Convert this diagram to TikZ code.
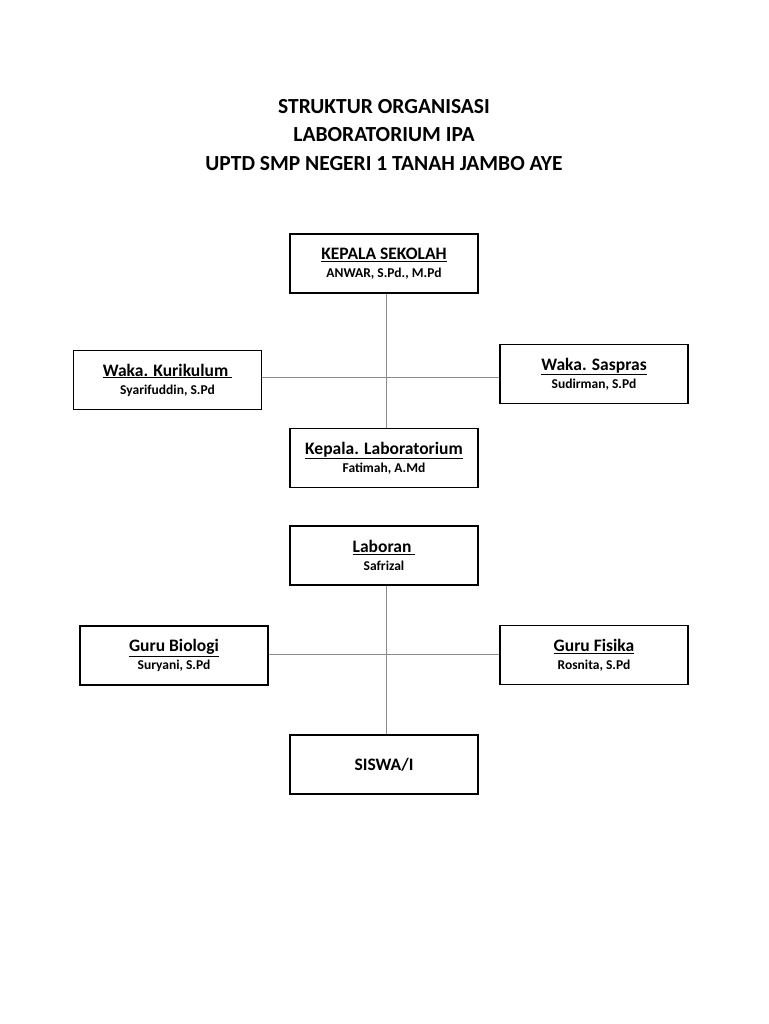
\documentclass[tikz,border=0pt]{standalone}
\usepackage{fontspec}
\setmainfont{Carlito}
\usetikzlibrary{%
	positioning,
	calc
}
\newcommand{\jabfont}{\fontsize{17.5}{20}\selectfont\bfseries}
\newcommand{\namafont}{\fontsize{13.5}{19}\selectfont\bfseries}

\begin{document}
\begin{tikzpicture}[x=1pt,y=-1pt,
		SBox/.style={draw,line width=1.6pt,shape=rectangle,minimum width=188pt,minimum height=59pt,inner sep=0pt,align=center,font=\fontsize{13.5}{19}\selectfont\bfseries},
		garis/.style={draw=black!45,line width=1pt}
	]
		\useasboundingbox[fill=white] (0,0) rectangle (768,1024);
	
		\node(judul) [align=center,font=\fontsize{21.5}{28.5}\selectfont\bfseries] at (384,135) {STRUKTUR ORGANISASI\\LABORATORIUM IPA\\UPTD SMP NEGERI 1 TANAH JAMBO AYE};
		
		\node(ks) [SBox] at (384,263.5) {{\jabfont\underline{KEPALA SEKOLAH}}\\[-1pt]{\namafont ANWAR, S.Pd., M.Pd}};
		\node(kl) [SBox, below=134pt of ks] {{\jabfont\underline{Kepala. Laboratorium}}\\[-1pt]{\namafont Fatimah, A.Md}};
		\node(lab) [SBox, below=37pt of kl] {{\jabfont\underline{Laboran\ }}\\[-1pt]{\namafont Safrizal}};
		\node(sis) [SBox, below=148pt of lab] {\jabfont SISWA/I};
		
		\node(wk) [SBox] at (167.5,380) {{\jabfont\underline{Waka. Kurikulum\ }}\\[-1pt]{\namafont Syarifuddin, S.Pd}};
		\node(ws) [SBox] at (594,374) {{\jabfont\underline{Waka. Saspras}}\\[-1pt]{\namafont Sudirman, S.Pd}};
		\node(gb) [SBox] at (174,655.5) {{\jabfont\underline{Guru Biologi}}\\[-1pt]{\namafont Suryani, S.Pd}};
		\node(gf) [SBox] at (594,655) {{\jabfont\underline{Guru Fisika}}\\[-1pt]{\namafont Rosnita, S.Pd}};
		
		\coordinate (j1) at (386,377);
		\coordinate (j2) at (386,654);
		
		\draw [garis] (ks.south -| j1) -- (kl.north -| j1);
		\draw [garis] (wk.east |- j1) -- (ws.west |- j1);
		\draw [garis] (lab.south -| j2) -- (sis.north -| j2);
		\draw [garis] (gb.east |- j2) -- (gf.west |- j2);
		
	\end{tikzpicture}
\end{document}
